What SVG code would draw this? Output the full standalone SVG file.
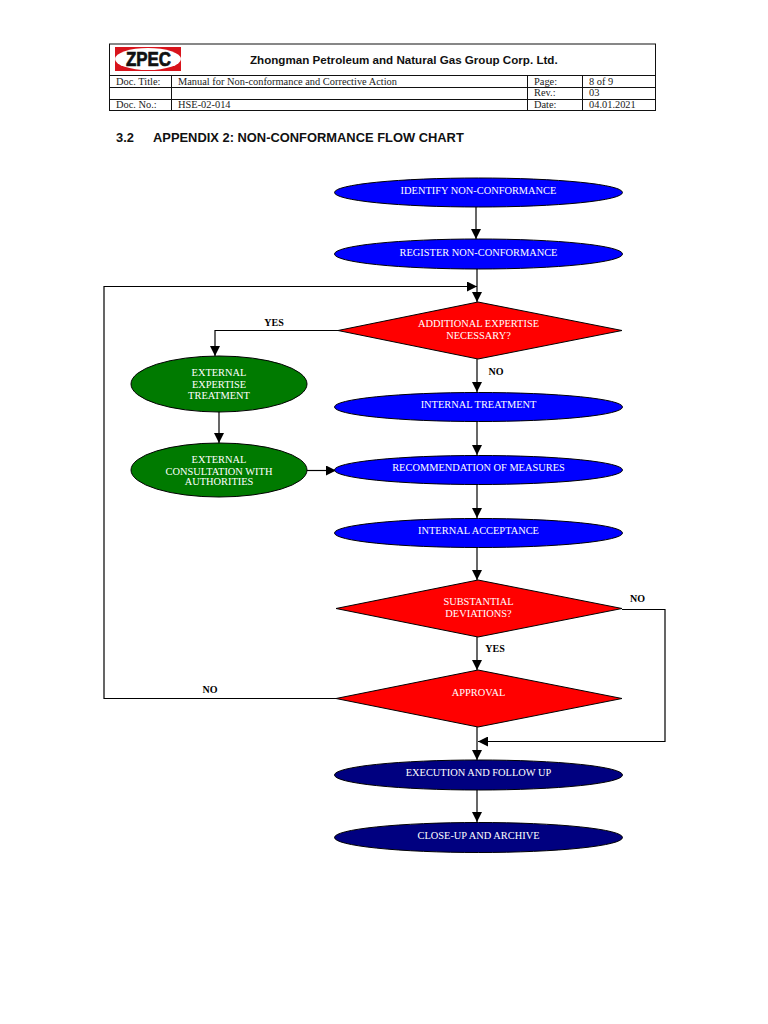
<svg xmlns="http://www.w3.org/2000/svg" width="768" height="1024" viewBox="0 0 768 1024">
<style>
.t{font-family:"Liberation Serif",serif;font-size:10.400px;fill:#fff;text-anchor:middle}
.l{font-family:"Liberation Serif",serif;font-size:10px;font-weight:bold;fill:#000;text-anchor:middle}
.d{font-family:"Liberation Serif",serif;font-size:10.400px;fill:#222}
.s{stroke:#000;stroke-width:1}
.c{fill:none;stroke:#000;stroke-width:1.200}
.g{stroke:#111;stroke-width:1;fill:none}
</style>
<defs>
<marker id="a" markerUnits="userSpaceOnUse" markerWidth="10" markerHeight="10" refX="10" refY="5" orient="auto"><path d="M0,0L10,5L0,10L0,0Z" fill="#000"/></marker>
</defs>
<rect width="768" height="1024" fill="#fff"/>
<g id="header">
<rect x="109.500" y="44" width="546" height="66.500" class="g"/>
<path d="M110 75.500H656M110 87.500H656M110 99.500H656M171.500 75.500V110M527.500 75.500V110M582.500 75.500V110" class="g"/>
<rect x="115" y="47" width="66" height="24" fill="#d8141c"/>
<ellipse cx="148" cy="59" rx="33" ry="11" fill="#fff"/>
<text x="148.500" y="66" font-family="Liberation Sans,sans-serif" font-size="20" font-weight="bold" text-anchor="middle" fill="#111" stroke="#111" stroke-width="0.700" textLength="45" lengthAdjust="spacingAndGlyphs">ZPEC</text>
<text x="250" y="64" font-family="Liberation Sans,sans-serif" font-size="11.620" font-weight="bold" fill="#111">Zhongman Petroleum and Natural Gas Group Corp. Ltd.</text>
<text x="116" y="85" class="d">Doc. Title:</text>
<text x="178" y="85" class="d">Manual for Non-conformance and Corrective Action</text>
<text x="534" y="85" class="d">Page:</text>
<text x="589" y="85" class="d">8 of 9</text>
<text x="534" y="96" class="d">Rev.:</text>
<text x="589" y="96" class="d">03</text>
<text x="116" y="108" class="d">Doc. No.:</text>
<text x="178" y="108" class="d">HSE-02-014</text>
<text x="534" y="108" class="d">Date:</text>
<text x="589" y="108" class="d">04.01.2021</text>
</g>
<text x="116" y="142" font-family="Liberation Sans,sans-serif" font-size="12.900" font-weight="bold" fill="#111">3.2</text>
<text x="153" y="142" font-family="Liberation Sans,sans-serif" font-size="12.900" font-weight="bold" fill="#111">APPENDIX 2: NON-CONFORMANCE FLOW CHART</text>
<g id="connectors">
<path class="c" d="M476 207V239" marker-end="url(#a)"/>
<path class="c" d="M477 269V302" marker-end="url(#a)"/>
<path class="c" d="M337 698.500H104V286.500H477" marker-end="url(#a)"/>
<path class="c" d="M338 330.500H215V356" marker-end="url(#a)"/>
<path class="c" d="M477 359V392" marker-end="url(#a)"/>
<path class="c" d="M477 422V455" marker-end="url(#a)"/>
<path class="c" d="M219 412V443" marker-end="url(#a)"/>
<path class="c" d="M307 470.500H336" marker-end="url(#a)"/>
<path class="c" d="M477 485V518" marker-end="url(#a)"/>
<path class="c" d="M477 548V580" marker-end="url(#a)"/>
<path class="c" d="M477 637V670" marker-end="url(#a)"/>
<path class="c" d="M477 727V760" marker-end="url(#a)"/>
<path class="c" d="M622 609.500H665V741.500H478" marker-end="url(#a)"/>
<path class="c" d="M477 790V822" marker-end="url(#a)"/>
</g>
<g id="n1"><ellipse class="s" cx="478.500" cy="192.500" rx="144" ry="14.500" fill="#0000ff"/><text class="t" x="478.500" y="194">IDENTIFY NON-CONFORMANCE</text></g>
<g id="n2"><ellipse class="s" cx="478.500" cy="254" rx="144" ry="15" fill="#0000ff"/><text class="t" x="478.500" y="256">REGISTER NON-CONFORMANCE</text></g>
<g id="n3"><path class="s" d="M478 302L622 330.500L478 359L338 330.500Z" fill="#ff0000"/><text class="t" x="478.500" y="327">ADDITIONAL EXPERTISE</text><text class="t" x="478.500" y="339">NECESSARY?</text></g>
<g id="n4"><ellipse class="s" cx="219" cy="384" rx="88" ry="28" fill="#007a00"/><text class="t" x="219" y="376">EXTERNAL</text><text class="t" x="219" y="387.500">EXPERTISE</text><text class="t" x="219" y="399">TREATMENT</text></g>
<g id="n5"><ellipse class="s" cx="219" cy="470" rx="88" ry="27" fill="#007a00"/><text class="t" x="219" y="463">EXTERNAL</text><text class="t" x="219" y="474.500">CONSULTATION WITH</text><text class="t" x="219" y="485">AUTHORITIES</text></g>
<g id="n6"><ellipse class="s" cx="478.500" cy="407" rx="144" ry="14.500" fill="#0000ff"/><text class="t" x="478.500" y="408">INTERNAL TREATMENT</text></g>
<g id="n7"><ellipse class="s" cx="478.500" cy="470" rx="144" ry="14.500" fill="#0000ff"/><text class="t" x="478.500" y="471">RECOMMENDATION OF MEASURES</text></g>
<g id="n8"><ellipse class="s" cx="478.500" cy="533" rx="144" ry="14.500" fill="#0000ff"/><text class="t" x="478.500" y="534">INTERNAL ACCEPTANCE</text></g>
<g id="n9"><path class="s" d="M478 580L622 608.500L478 637L336 608.500Z" fill="#ff0000"/><text class="t" x="478.500" y="605">SUBSTANTIAL</text><text class="t" x="478.500" y="617">DEVIATIONS?</text></g>
<g id="n10"><path class="s" d="M478 670L622 698.500L478 727L336 698.500Z" fill="#ff0000"/><text class="t" x="478.500" y="696">APPROVAL</text></g>
<g id="n11"><ellipse class="s" cx="478.500" cy="775" rx="144" ry="15" fill="#000080"/><text class="t" x="478.500" y="776">EXECUTION AND FOLLOW UP</text></g>
<g id="n12"><ellipse class="s" cx="478.500" cy="837.500" rx="144" ry="15" fill="#000080"/><text class="t" x="478.500" y="839">CLOSE-UP AND ARCHIVE</text></g>
<text class="l" x="274" y="326">YES</text>
<text class="l" x="496" y="375">NO</text>
<text class="l" x="637.500" y="602">NO</text>
<text class="l" x="495" y="652">YES</text>
<text class="l" x="210" y="693">NO</text>
</svg>
